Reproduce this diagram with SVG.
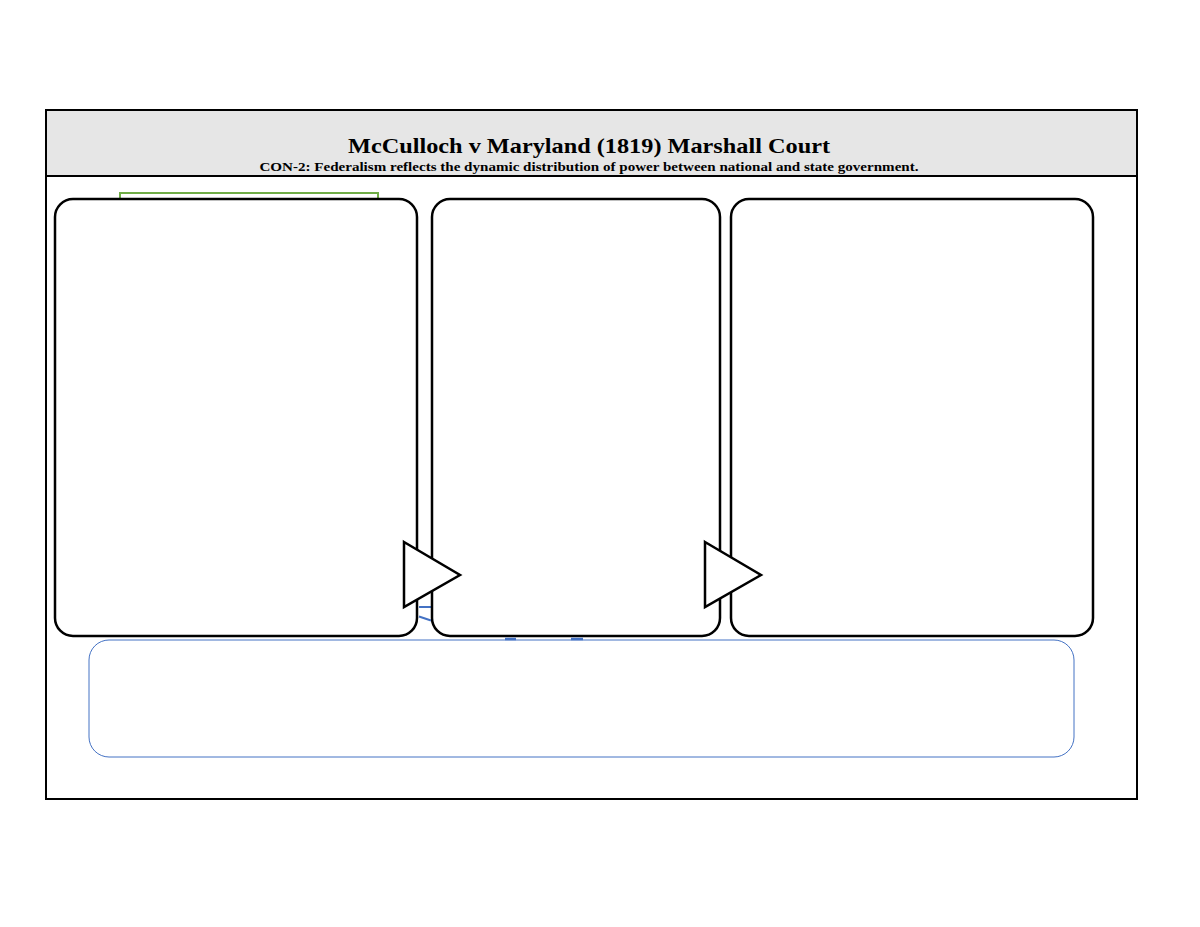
<svg xmlns="http://www.w3.org/2000/svg" width="1200" height="927" viewBox="0 0 1200 927">
<style>
.box{fill:#ffffff;stroke:#000000;stroke-width:2.5}
.tri{fill:#ffffff;stroke:#000000;stroke-width:2.5;stroke-linejoin:miter}
.blue{fill:none;stroke:#4472c4;stroke-width:1}
.bl{stroke:#4472c4;stroke-width:2;fill:none}
.t{font-family:"Liberation Serif","Times New Roman",serif;font-weight:bold;fill:#000000}
</style>
<rect x="0" y="0" width="1200" height="927" fill="#ffffff"/>
<g id="frame">
<rect x="46" y="110" width="1091" height="689" fill="#ffffff" stroke="#000000" stroke-width="2"/>
<rect x="46" y="110" width="1091" height="66" fill="#e6e6e6" stroke="#000000" stroke-width="2"/>
<text class="t" x="589" y="153" font-size="22" text-anchor="middle" textLength="482" lengthAdjust="spacingAndGlyphs">McCulloch v Maryland (1819) Marshall Court</text>
<text class="t" x="589" y="171" font-size="13" text-anchor="middle" textLength="659" lengthAdjust="spacingAndGlyphs">CON-2: Federalism reflects the dynamic distribution of power between national and state government.</text>
</g>
<g id="green-label">
<rect x="120" y="193" width="258" height="20" fill="#ffffff" stroke="#70ad47" stroke-width="2"/>
</g>
<g id="connectors">
<line class="bl" x1="419" y1="607" x2="431" y2="607"/>
<line class="bl" x1="419" y1="616.5" x2="431" y2="620.5"/>
</g>
<g id="box1"><rect class="box" x="55" y="199" width="362" height="437" rx="18"/></g>
<g id="box2"><rect class="box" x="432" y="199" width="288" height="437" rx="18"/></g>
<g id="box3"><rect class="box" x="731" y="199" width="362" height="437" rx="18"/></g>
<g id="bottom-box">
<rect class="blue" x="89" y="640" width="985" height="117" rx="20"/>
<line x1="505" y1="639" x2="516" y2="639" stroke="#4472c4" stroke-width="2.5"/>
<line x1="571" y1="639" x2="583" y2="639" stroke="#4472c4" stroke-width="2.5"/>
</g>
<g id="arrow1"><polygon class="tri" points="404,542 460,575 404,607"/></g>
<g id="arrow2"><polygon class="tri" points="705,542 761,575 705,607"/></g>
</svg>
